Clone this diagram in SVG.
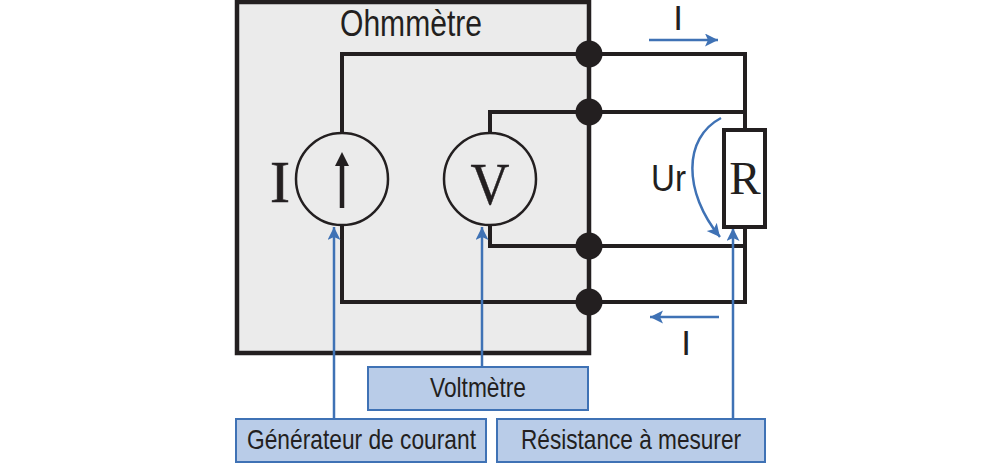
<svg xmlns="http://www.w3.org/2000/svg" width="1000" height="463" viewBox="0 0 1000 463">
<style>
.w{fill:none;stroke:#231f20;stroke-width:4}
.c{fill:#ebebeb;stroke:#231f20;stroke-width:2.5}
.d{fill:#231f20}
.b{fill:none;stroke:#3f72b5;stroke-width:2.5}
.l{fill:#b9cce8;stroke:#3f72b5;stroke-width:2}
.s{font-family:"Liberation Sans",Arial,sans-serif;fill:#231f20}
.r{font-family:"Liberation Serif","Times New Roman",serif;fill:#231f20}
.h{fill:#3f72b5}
</style>
<defs>
<marker id="ab" markerUnits="userSpaceOnUse" markerWidth="14" markerHeight="14" refX="13" refY="6.5" orient="auto"><path class="h" d="M0 0L13 6.5L0 13L3 6.5Z"/></marker>
</defs>
<rect width="1000" height="463" fill="#fff"/>
<g id="ohmmetre">
<rect x="237" y="2" width="352" height="351" fill="#ebebeb" stroke="#231f20" stroke-width="4.5"/>
<text class="s" x="340" y="36" font-size="37" textLength="142" lengthAdjust="spacingAndGlyphs">Ohmmètre</text>
</g>
<g id="connectors">
<path class="w" d="M342 133V54H745V130"/>
<path class="w" d="M490 133V112H745"/>
<path class="w" d="M342 225V302H745V227"/>
<path class="w" d="M490 225V246H745"/>
<path class="b" d="M649 40H718" marker-end="url(#ab)"/>
<path class="b" d="M719 317H650" marker-end="url(#ab)"/>
<path class="b" d="M721 118C683 138 683 192 720 237" marker-end="url(#ab)"/>
<path class="b" d="M334 420V227" marker-end="url(#ab)"/>
<path class="b" d="M482 367V227" marker-end="url(#ab)"/>
<path class="b" d="M733 420V228" marker-end="url(#ab)"/>
</g>
<g id="junctions">
<circle class="d" cx="589" cy="54" r="13.5"/>
<circle class="d" cx="589" cy="112" r="13.5"/>
<circle class="d" cx="589" cy="246" r="13.5"/>
<circle class="d" cx="589" cy="302" r="13.5"/>
</g>
<g id="source">
<circle class="c" cx="342" cy="179" r="46"/>
<path d="M342 208V165" stroke="#231f20" stroke-width="4.5" fill="none"/>
<path class="d" d="M342 152L349 166H335Z"/>
<text class="r" x="280" y="202" font-size="60" text-anchor="middle" stroke="#231f20" stroke-width="0.7">I</text>
</g>
<g id="voltmeter">
<circle class="c" cx="490" cy="179" r="46"/>
<text class="r" x="490" y="204" font-size="60" text-anchor="middle" stroke="#231f20" stroke-width="0.4" textLength="39" lengthAdjust="spacingAndGlyphs">V</text>
</g>
<g id="resistor">
<rect x="724" y="130" width="41" height="97" fill="#fff" stroke="#231f20" stroke-width="4"/>
<text class="r" x="745" y="194" font-size="47" text-anchor="middle">R</text>
<text class="s" x="651" y="191" font-size="36" textLength="35" lengthAdjust="spacingAndGlyphs">Ur</text>
</g>
<g id="current-labels">
<text class="s" x="678" y="30" font-size="35" text-anchor="middle">I</text>
<text class="s" x="686" y="355" font-size="35" text-anchor="middle">I</text>
</g>
<g id="label-voltmetre">
<rect class="l" x="368" y="367" width="220" height="43"/>
<text class="s" x="430" y="397" font-size="28" textLength="96" lengthAdjust="spacingAndGlyphs">Voltmètre</text>
</g>
<g id="label-generateur">
<rect class="l" x="236" y="419" width="250" height="43"/>
<text class="s" x="247" y="449" font-size="28" textLength="229" lengthAdjust="spacingAndGlyphs">Générateur de courant</text>
</g>
<g id="label-resistance">
<rect class="l" x="497" y="419" width="268" height="43"/>
<text class="s" x="521" y="449" font-size="28" textLength="220" lengthAdjust="spacingAndGlyphs">Résistance à mesurer</text>
</g>
</svg>
